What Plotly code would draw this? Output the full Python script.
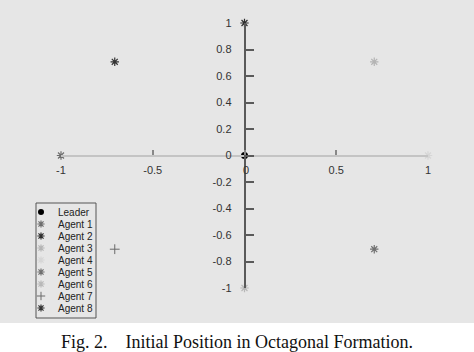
import plotly.graph_objects as go

# ---- data ----
names = ["Leader", "Agent 1", "Agent 2", "Agent 3", "Agent 4",
         "Agent 5", "Agent 6", "Agent 7", "Agent 8"]
xs = [0, -1, 0, 0.7071, 1, 0.7071, 0, -0.7071, -0.7071]
ys = [0, 0, 1, 0.7071, 0, -0.7071, -1, -0.7071, 0.7071]
symbols = ["circle", "asterisk-open", "asterisk-open", "asterisk-open", "asterisk-open",
           "asterisk-open", "asterisk-open", "cross-thin-open", "asterisk-open"]
colors = ["#000000", "#6e6e6e", "#2e2e2e", "#b4b4b4", "#d6d6d6",
          "#707070", "#b8b8b8", "#6a6a6a", "#333333"]
sizes = [7, 7, 7, 7, 7, 7, 7, 7, 7]

xtick_vals = [-1, -0.5, 0, 0.5, 1]
xtick_text = ["-1", "-0.5", "&nbsp;0", "0.5", "1"]
ytick_vals = [-1, -0.8, -0.6, -0.4, -0.2, 0, 0.2, 0.4, 0.6, 0.8, 1]
ytick_text = ["-1", "-0.8", "-0.6", "-0.4", "-0.2", "0", "0.2", "0.4", "0.6", "0.8", "1"]

caption = "Fig. 2.&nbsp;&nbsp;&nbsp; Initial Position in Octagonal Formation."

W, H = 474, 352
BG = "#e6e6e6"

# legend layout (pixel positions in an overlay frame)
LEG_X0, LEG_X1, LEG_Y0, LEG_Y1 = 36, 96, 203, 318
LEG_FIRST, LEG_STEP = 212, 12
LEG_MX, LEG_TX = 41, 56


def marker_for(s, c, sz):
    if s == "circle":
        return dict(symbol=s, color=c, size=sz)
    w = 1.0 if s.startswith("cross") else 1.2
    return dict(symbol=s, color=c, size=sz, line=dict(color=c, width=w))


fig = go.Figure()
for n, x, y, s, c, sz in zip(names, xs, ys, symbols, colors, sizes):
    fig.add_trace(go.Scatter(x=[x], y=[y], mode="markers", name=n,
                             marker=marker_for(s, c, sz), cliponaxis=False,
                             showlegend=False))

annotations = []
for i, (n, s, c, sz) in enumerate(zip(names, symbols, colors, sizes)):
    yy = LEG_FIRST + i * LEG_STEP
    fig.add_trace(go.Scatter(x=[LEG_MX], y=[yy], mode="markers",
                             marker=marker_for(s, c, max(sz - 1, 5)),
                             xaxis="x2", yaxis="y2", cliponaxis=False,
                             showlegend=False, hoverinfo="skip"))
    annotations.append(dict(text=n, xref="x2", yref="y2", x=LEG_TX, y=yy,
                            xanchor="left", yanchor="middle", showarrow=False,
                            font=dict(size=10, color="#222222")))

annotations.append(dict(text=caption, xref="paper", yref="paper",
                        x=0.5, y=10 / H, xanchor="center", yanchor="middle",
                        showarrow=False,
                        font=dict(family="Liberation Serif, Times New Roman", size=18,
                                  color="#111111")))

fig.update_layout(
    width=W, height=H,
    margin=dict(l=0, r=0, t=0, b=0, pad=0, autoexpand=False),
    paper_bgcolor=BG,
    plot_bgcolor="rgba(0,0,0,0)",
    font=dict(family="Liberation Sans, Arial", size=11, color="#222222"),
    showlegend=False,
    xaxis=dict(
        domain=[61 / W, 428 / W], range=[-1, 1],
        anchor="free", position=(H - 156) / H,
        showgrid=False, zeroline=False,
        showline=True, linecolor="#c4c4c4", linewidth=2,
        ticks="inside", ticklen=5, tickcolor="#888888", tickwidth=1.5,
        tickvals=xtick_vals, ticktext=xtick_text,
        tickfont=dict(size=11, color="#333333"),
        ticklabelstandoff=4,
    ),
    yaxis=dict(
        domain=[(H - 288) / H, (H - 23) / H], range=[-1, 1],
        anchor="free", position=244.5 / W,
        showgrid=False, zeroline=False,
        showline=True, linecolor="#5a5a5a", linewidth=1.5,
        ticks="inside", ticklen=9, tickcolor="#5a5a5a", tickwidth=1.5,
        tickvals=ytick_vals, ticktext=ytick_text,
        tickfont=dict(size=11, color="#333333"),
        ticklabelstandoff=10,
    ),
    xaxis2=dict(domain=[0, 1], range=[0, W], visible=False, anchor="y2"),
    yaxis2=dict(domain=[0, 1], range=[H, 0], visible=False, anchor="x2"),
    shapes=[
        dict(type="rect", xref="paper", yref="paper",
             x0=0, x1=1, y0=0, y1=29 / H,
             fillcolor="white", line=dict(width=0), layer="below"),
        dict(type="rect", xref="x2", yref="y2",
             x0=LEG_X0, x1=LEG_X1, y0=LEG_Y0, y1=LEG_Y1,
             fillcolor=BG, line=dict(color="#555555", width=1), layer="below"),
    ],
    annotations=annotations,
)

fig.write_html("out.html", post_script="document.body.style.margin='0';")
